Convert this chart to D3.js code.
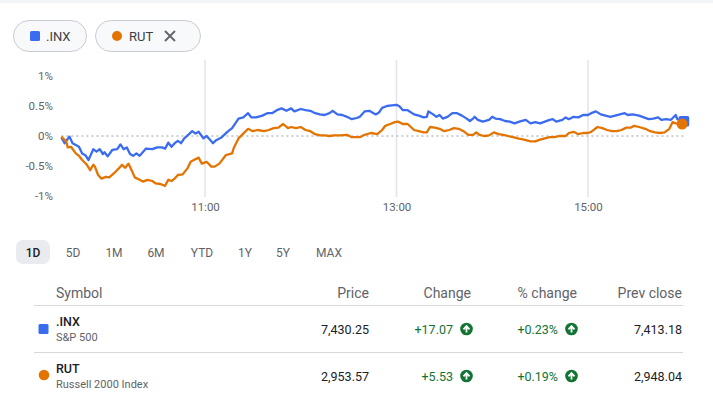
<!DOCTYPE html>
<html>
<head>
<meta charset="utf-8">
<script src="https://cdn.jsdelivr.net/npm/d3@7"></script>
<style>
  html, body { margin: 0; padding: 0; background: #fff; }
  svg { display: block; font-family: Roboto, "Noto Sans", sans-serif; }
</style>
</head>
<body>
<div id="chart"></div>
<script>
/* intraday % change, [minutes after 9:30, percent] */
var inxSeries = [
  [0,-0.03],[1,-0.07],[2,-0.12],[5,-0.01],[7,-0.12],[9,-0.15],[11,-0.18],[13,-0.29],[15,-0.32],[17,-0.40],
  [18,-0.34],[20,-0.22],[22,-0.26],[24,-0.22],[26,-0.30],[27,-0.27],[29,-0.34],[32,-0.23],[35,-0.22],
  [37,-0.14],[39,-0.22],[41,-0.19],[43,-0.30],[45,-0.33],[47,-0.29],[49,-0.33],[51,-0.27],[53,-0.21],
  [57,-0.22],[60,-0.19],[63,-0.19],[65,-0.21],[67,-0.11],[69,-0.18],[71,-0.12],[73,-0.08],[75,-0.12],
  [77,-0.04],[80,0.03],[82,0.08],[84,0.04],[86,0.07],[89,-0.04],[91,0.00],[93,-0.06],[95,-0.12],
  [97,-0.07],[100,-0.03],[104,0.07],[107,0.13],[109,0.21],[111,0.29],[114,0.31],[117,0.38],[119,0.31],
  [122,0.31],[126,0.34],[129,0.38],[132,0.38],[135,0.43],[138,0.46],[141,0.42],[144,0.46],[146,0.41],
  [150,0.45],[153,0.43],[156,0.42],[159,0.38],[162,0.36],[165,0.35],[168,0.38],[170,0.42],[173,0.36],
  [176,0.35],[179,0.32],[182,0.28],[185,0.30],[187,0.32],[190,0.41],[193,0.42],[197,0.36],[199,0.39],
  [201,0.47],[204,0.50],[207,0.51],[210,0.52],[212,0.49],[214,0.43],[217,0.43],[221,0.36],[224,0.34],
  [227,0.31],[229,0.32],[230,0.41],[233,0.36],[235,0.32],[237,0.35],[239,0.29],[242,0.32],[245,0.38],
  [248,0.38],[251,0.34],[254,0.29],[256,0.25],[258,0.29],[259,0.32],[261,0.27],[264,0.24],[268,0.27],
  [270,0.32],[272,0.29],[275,0.28],[278,0.25],[281,0.24],[284,0.21],[287,0.24],[291,0.27],[294,0.21],
  [297,0.23],[300,0.21],[303,0.24],[306,0.27],[308,0.28],[310,0.24],[314,0.27],[316,0.31],[318,0.28],
  [321,0.32],[324,0.31],[327,0.35],[330,0.35],[332,0.38],[335,0.41],[338,0.36],[341,0.34],[344,0.32],
  [347,0.34],[350,0.36],[353,0.38],[355,0.35],[358,0.36],[362,0.34],[365,0.31],[368,0.28],[371,0.29],
  [374,0.31],[376,0.27],[379,0.28],[382,0.27],[385,0.35],[386,0.28],[390,0.24]
];

var rutSeries = [
  [0,-0.01],[1,-0.04],[3,-0.09],[4,-0.19],[6,-0.18],[9,-0.29],[11,-0.33],[13,-0.40],[16,-0.48],[18,-0.57],
  [20,-0.48],[21,-0.51],[23,-0.65],[25,-0.71],[28,-0.68],[30,-0.69],[33,-0.62],[36,-0.54],[38,-0.48],
  [40,-0.53],[42,-0.46],[44,-0.57],[46,-0.69],[49,-0.73],[51,-0.76],[54,-0.73],[57,-0.75],[59,-0.79],
  [62,-0.80],[65,-0.83],[67,-0.73],[69,-0.75],[71,-0.71],[73,-0.65],[76,-0.64],[79,-0.54],[81,-0.43],
  [83,-0.40],[86,-0.36],[88,-0.46],[91,-0.43],[94,-0.51],[96,-0.51],[99,-0.46],[103,-0.32],[107,-0.29],
  [108,-0.20],[111,-0.04],[114,0.04],[117,0.12],[120,0.08],[123,0.10],[127,0.08],[130,0.10],[133,0.13],
  [136,0.14],[139,0.20],[142,0.13],[144,0.15],[147,0.13],[150,0.15],[153,0.10],[156,0.08],[159,0.03],
  [162,0.01],[165,0.01],[168,0.00],[171,0.01],[175,0.01],[179,0.02],[182,-0.02],[185,-0.02],[187,-0.02],
  [190,0.02],[194,0.05],[198,0.03],[201,0.10],[203,0.17],[206,0.20],[209,0.23],[211,0.24],[214,0.20],
  [217,0.20],[221,0.10],[224,0.08],[227,0.06],[229,0.06],[231,0.15],[234,0.14],[237,0.12],[240,0.08],
  [243,0.10],[246,0.13],[249,0.12],[252,0.08],[255,0.02],[258,0.02],[260,0.06],[262,0.02],[265,0.00],
  [268,0.01],[271,0.06],[274,0.03],[277,0.02],[280,0.00],[283,-0.02],[286,-0.04],[290,-0.06],[294,-0.09],
  [297,-0.09],[300,-0.06],[303,-0.04],[306,-0.02],[309,-0.02],[312,0.00],[316,0.00],[318,0.05],[321,0.07],
  [324,0.03],[327,0.05],[330,0.05],[332,0.07],[336,0.15],[339,0.13],[342,0.10],[345,0.08],[348,0.08],
  [351,0.10],[354,0.14],[357,0.14],[359,0.17],[362,0.15],[366,0.12],[369,0.08],[372,0.06],[375,0.05],
  [378,0.06],[381,0.12],[383,0.23],[385,0.21],[389,0.20]
];

var yTicks = [-1, -0.5, 0, 0.5, 1];
var xTicks = [90, 210, 330];
var xTickLabels = ["11:00", "13:00", "15:00"];
var ranges = ["1D", "5D", "1M", "6M", "YTD", "1Y", "5Y", "MAX"];
var columns = ["Price", "Change", "% change", "Prev close"];
var symbols = [".INX", "RUT"];
var names = ["S&P 500", "Russell 2000 Index"];
var prices = ["7,430.25", "2,953.57"];
var changes = ["+17.07", "+5.53"];
var pctChanges = ["+0.23%", "+0.19%"];
var prevCloses = ["7,413.18", "2,948.04"];

var blue = "#3b6cf0";
var orange = "#e37400";
var green = "#137333";

var W = 713, H = 407;

var svg = d3.select("#chart").append("svg")
    .attr("width", W)
    .attr("height", H);

/* faint strip at the very top */
svg.append("rect")
    .attr("x", 0).attr("y", 0)
    .attr("width", W).attr("height", 3)
    .attr("fill", "#f3f4f6");

/* legend chips */
var chips = svg.append("g").attr("class", "chips");

chips.append("rect")
    .attr("x", 13.5).attr("y", 20.5).attr("width", 73).attr("height", 31)
    .attr("rx", 15.5)
    .attr("fill", "#f8f9fb").attr("stroke", "#c9ccd3");
chips.append("rect")
    .attr("x", 30).attr("y", 31).attr("width", 10).attr("height", 10)
    .attr("rx", 1.5)
    .attr("fill", blue);
chips.append("text")
    .attr("x", 46).attr("y", 41)
    .attr("font-size", 13).attr("fill", "#3c4043")
    .text(".INX");

chips.append("rect")
    .attr("x", 95.5).attr("y", 20.5).attr("width", 105).attr("height", 31)
    .attr("rx", 15.5)
    .attr("fill", "#f8f9fb").attr("stroke", "#c9ccd3");
chips.append("circle")
    .attr("cx", 117).attr("cy", 36).attr("r", 5)
    .attr("fill", orange);
chips.append("text")
    .attr("x", 129).attr("y", 41)
    .attr("font-size", 13).attr("fill", "#3c4043")
    .text("RUT");
chips.append("path")
    .attr("d", "M165,31 L175,41 M175,31 L165,41")
    .attr("stroke", "#5f6368").attr("stroke-width", 1.8)
    .attr("fill", "none");

/* scales */
var x = d3.scaleLinear().domain([0, 390]).range([61.4, 683.7]);
var y = d3.scaleLinear().domain([-1, 1]).range([196, 76]);

var plot = svg.append("g").attr("class", "plot");

/* vertical grid lines at the hour ticks */
plot.selectAll("line.grid")
    .data(xTicks)
    .enter().append("line")
    .attr("class", "grid")
    .attr("x1", function (d) { return x(d); })
    .attr("x2", function (d) { return x(d); })
    .attr("y1", 60).attr("y2", 197)
    .attr("stroke", "#e3e4e9").attr("stroke-width", 1.5);

/* zero line */
plot.append("line")
    .attr("x1", x(0)).attr("x2", x(390))
    .attr("y1", y(0)).attr("y2", y(0))
    .attr("stroke", "#9aa0a6").attr("stroke-width", 1)
    .attr("stroke-dasharray", "2,3");

/* axes */
var yAxis = d3.axisLeft(y)
    .tickValues(yTicks)
    .tickSize(0)
    .tickPadding(0)
    .tickFormat(function (d) { return String(d) + "%"; });

svg.append("g")
    .attr("transform", "translate(53,0)")
    .call(yAxis)
    .call(function (g) { g.select(".domain").remove(); })
    .selectAll("text")
    .attr("font-family", "Roboto, sans-serif")
    .attr("font-size", 11.5)
    .attr("fill", "#5f6368");

var xAxis = d3.axisBottom(x)
    .tickValues(xTicks)
    .tickSize(0)
    .tickPadding(0)
    .tickFormat(function (d, i) { return xTickLabels[i]; });

svg.append("g")
    .attr("transform", "translate(0,203)")
    .call(xAxis)
    .call(function (g) { g.select(".domain").remove(); })
    .selectAll("text")
    .attr("font-family", "Roboto, sans-serif")
    .attr("font-size", 11.5)
    .attr("fill", "#5f6368");

/* series lines */
var line = d3.line()
    .x(function (d) { return x(d[0]); })
    .y(function (d) { return y(d[1]); });

plot.append("path")
    .datum(inxSeries)
    .attr("d", line)
    .attr("fill", "none")
    .attr("stroke", blue)
    .attr("stroke-width", 2.3)
    .attr("stroke-linejoin", "round");

plot.append("path")
    .datum(rutSeries)
    .attr("d", line)
    .attr("fill", "none")
    .attr("stroke", orange)
    .attr("stroke-width", 2.3)
    .attr("stroke-linejoin", "round");

/* end markers */
var lastInx = inxSeries[inxSeries.length - 1];
var lastRut = rutSeries[rutSeries.length - 1];
plot.append("rect")
    .attr("x", x(lastInx[0]) - 5).attr("y", y(lastInx[1]) - 5.5)
    .attr("width", 10.5).attr("height", 10.5)
    .attr("rx", 1.5)
    .attr("fill", blue);
plot.append("circle")
    .attr("cx", x(lastRut[0])).attr("cy", y(lastRut[1]))
    .attr("r", 5.5)
    .attr("fill", orange);

/* range tabs */
var tabX = [33, 73, 114, 156, 202, 245, 283, 329];
var tabs = svg.append("g").attr("class", "tabs");
tabs.append("rect")
    .attr("x", 16).attr("y", 240).attr("width", 34).attr("height", 24)
    .attr("rx", 7)
    .attr("fill", "#e9ebef");
tabs.selectAll("text")
    .data(ranges)
    .enter().append("text")
    .attr("x", function (d, i) { return tabX[i]; })
    .attr("y", 256.5)
    .attr("text-anchor", "middle")
    .attr("font-size", 12)
    .attr("font-weight", function (d, i) { return i === 0 ? 500 : 400; })
    .attr("fill", function (d, i) { return i === 0 ? "#202124" : "#5f6368"; })
    .text(function (d) { return d; });

/* table */
var table = svg.append("g").attr("class", "table");
var colRight = [369, 471, 577, 682];

table.append("text")
    .attr("x", 56).attr("y", 298)
    .attr("font-size", 14).attr("fill", "#5f6368")
    .text("Symbol");
table.selectAll("text.head")
    .data(columns)
    .enter().append("text")
    .attr("class", "head")
    .attr("x", function (d, i) { return colRight[i]; })
    .attr("y", 298)
    .attr("text-anchor", "end")
    .attr("font-size", 14).attr("fill", "#5f6368")
    .text(function (d) { return d; });

table.selectAll("line.sep")
    .data([305.5, 352.5])
    .enter().append("line")
    .attr("class", "sep")
    .attr("x1", 34).attr("x2", 683)
    .attr("y1", function (d) { return d; })
    .attr("y2", function (d) { return d; })
    .attr("stroke", "#d6d8dd").attr("stroke-width", 1);

var rowY = [329, 376];

function upIcon(g, cx, cy) {
    g.append("circle").attr("cx", cx).attr("cy", cy).attr("r", 6.3).attr("fill", green);
    g.append("path")
        .attr("d", "M" + cx + "," + (cy + 3.5) + " L" + cx + "," + (cy - 2.5) +
                   " M" + (cx - 3) + "," + (cy + 0.3) + " L" + cx + "," + (cy - 3) + " L" + (cx + 3) + "," + (cy + 0.3))
        .attr("stroke", "#fff").attr("stroke-width", 1.8)
        .attr("fill", "none");
}

symbols.forEach(function (s, i) {
    var cy = rowY[i];
    var row = table.append("g");
    if (i === 0) {
        row.append("rect")
            .attr("x", 38.5).attr("y", cy - 5).attr("width", 10).attr("height", 10)
            .attr("rx", 1.5).attr("fill", blue);
    } else {
        row.append("circle")
            .attr("cx", 44).attr("cy", cy - 1).attr("r", 5.3).attr("fill", orange);
    }
    row.append("text")
        .attr("x", 56).attr("y", cy - 3)
        .attr("font-size", 12.5).attr("font-weight", 500).attr("fill", "#202124")
        .text(s);
    row.append("text")
        .attr("x", 56).attr("y", cy + 12)
        .attr("font-size", 11).attr("fill", "#5f6368")
        .text(names[i]);
    row.append("text")
        .attr("x", colRight[0]).attr("y", cy + 4.5)
        .attr("text-anchor", "end")
        .attr("font-size", 12.5).attr("fill", "#202124")
        .text(prices[i]);
    row.append("text")
        .attr("x", 453).attr("y", cy + 4.5)
        .attr("text-anchor", "end")
        .attr("font-size", 12.5).attr("fill", green)
        .text(changes[i]);
    upIcon(row, 466.5, cy);
    row.append("text")
        .attr("x", 558).attr("y", cy + 4.5)
        .attr("text-anchor", "end")
        .attr("font-size", 12.5).attr("fill", green)
        .text(pctChanges[i]);
    upIcon(row, 571.5, cy);
    row.append("text")
        .attr("x", colRight[3]).attr("y", cy + 4.5)
        .attr("text-anchor", "end")
        .attr("font-size", 12.5).attr("fill", "#202124")
        .text(prevCloses[i]);
});
</script>
</body>
</html>
